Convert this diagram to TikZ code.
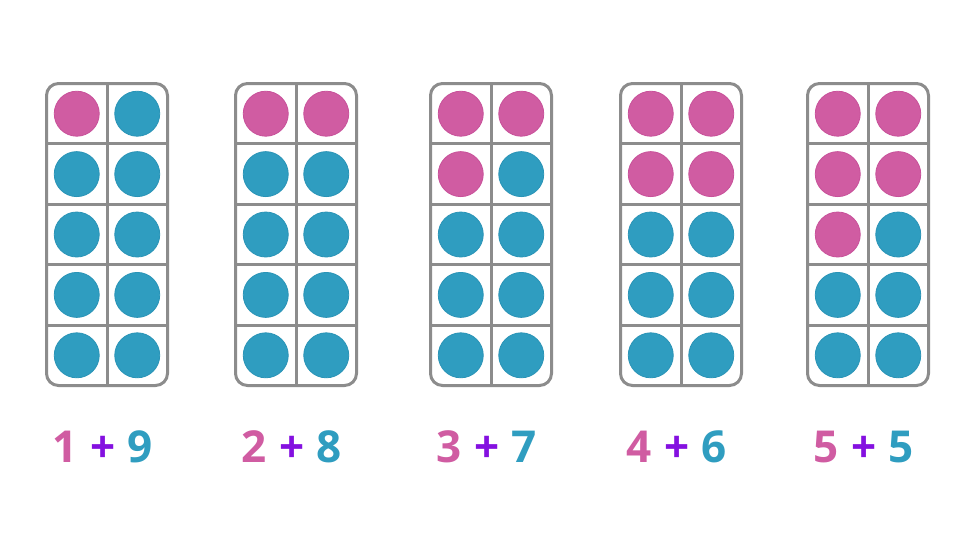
\documentclass[tikz,border=0pt]{standalone}
\usepackage{fontspec}
\setmainfont{Open Sans}
\usetikzlibrary{calc}
\definecolor{pinkc}{HTML}{D05CA2}
\definecolor{pinkd}{HTML}{C8519A}
\definecolor{bluec}{HTML}{2F9DC0}
\definecolor{blued}{HTML}{2A94B7}
\definecolor{grayc}{HTML}{8C8C8C}
\definecolor{purplec}{HTML}{8410E0}
\begin{document}
\begin{tikzpicture}[x=1pt,y=-1pt,
  frame/.style={draw=grayc, line width=3pt, rounded corners=12pt, rectangle, minimum width=121pt, minimum height=302pt, inner sep=0pt, outer sep=0pt},
  gridline/.style={draw=grayc, line width=3pt},
  pinkdot/.style={circle, fill=pinkc, draw=pinkd, line width=0.8pt, minimum size=45pt, inner sep=0pt},
  bluedot/.style={circle, fill=bluec, draw=blued, line width=0.8pt, minimum size=45pt, inner sep=0pt},
  num/.style={anchor=base, inner sep=0pt, font=\fontsize{44}{44}\selectfont\bfseries},
]
\useasboundingbox (0,0) rectangle (976,549);
\fill[white] (0,0) rectangle (976,549);
\foreach \c [count=\n] in {107,296,491,681,868} {
  \node[frame] (f\n) at (\c,234.5) {};
  \draw[gridline] (f\n.north) -- (f\n.south);
  \foreach \k in {1,...,4} {
    \draw[gridline] ($(f\n.north west)+(0,60.4*\k)$) -- ($(f\n.north east)+(0,60.4*\k)$);
  }
  \foreach \k in {0,...,9} {
    \pgfmathtruncatemacro{\row}{int(\k/2)}
    \pgfmathtruncatemacro{\col}{mod(\k,2)}
    \pgfmathsetmacro{\px}{\c-30.25+60.5*\col}
    \pgfmathsetmacro{\py}{83.5+30.2+60.4*\row}
    \ifnum\k<\n
      \node[pinkdot] (d\n-\k) at (\px,\py) {};
    \else
      \node[bluedot] (d\n-\k) at (\px,\py) {};
    \fi
  }
  \pgfmathtruncatemacro{\m}{10-\n}
  \node[num, text=pinkc] (a\n) at (\c-41.5,462) {\n};
  \node[num, text=purplec] (p\n) at (\c-4,462) {+};
  \node[num, text=bluec] (b\n) at (\c+33,462) {\m};
}
\end{tikzpicture}
\end{document}
